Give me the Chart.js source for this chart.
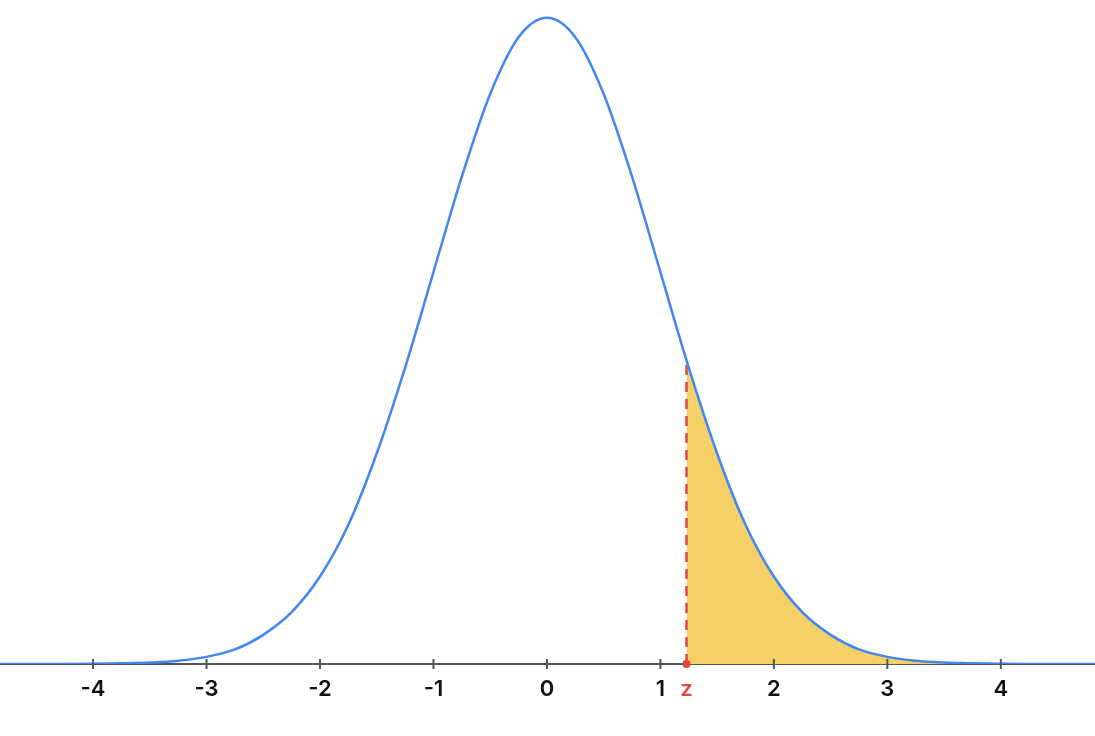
<!DOCTYPE html>
<html>
<head>
<meta charset="utf-8">
<script src="https://cdn.jsdelivr.net/npm/chart.js@4.4.1/dist/chart.umd.min.js"></script>
<style>
  html, body { margin: 0; padding: 0; background: #fff; }
  #wrap { width: 1095px; height: 736px; }
</style>
</head>
<body>
<div id="wrap"><canvas id="normalChart"></canvas></div>
<script>
// curve values (density at each z)
const zValues = [-5, -4.75, -4.5, -4.25, -4, -3.75, -3.5, -3.25, -3, -2.75, -2.5, -2.25, -2, -1.75, -1.5, -1.25, -1, -0.75, -0.5, -0.25,
                 0, 0.25, 0.5, 0.75, 1, 1.25, 1.5, 1.75, 2, 2.25, 2.5, 2.75, 3, 3.25, 3.5, 3.75, 4, 4.25, 4.5, 4.75, 5];
const density = [0, 0, 0, 0, 0.0001, 0.0004, 0.0009, 0.002, 0.0044, 0.009, 0.018, 0.032, 0.054, 0.086, 0.130, 0.183, 0.242, 0.301, 0.352, 0.387,
                 0.399, 0.387, 0.352, 0.301, 0.242, 0.183, 0.130, 0.086, 0.054, 0.032, 0.018, 0.009, 0.0044, 0.002, 0.0009, 0.0004, 0.0001, 0, 0, 0, 0];
const tickValues = [-4, -3, -2, -1, 0, 1, 2, 3, 4];

// the marked z value and the curve height there
const zMark = 1.23;
const zHeight = 0.187;

const curvePoints = zValues.map((x, i) => ({ x: x, y: density[i] }));
const tailPoints = [{ x: zMark, y: zHeight }].concat(curvePoints.filter(p => p.x > zMark));

const blue = '#4286f4';
const red = '#e0483e';
const axisGrey = '#555555';

// small tick marks that cross the axis line
const crossTicks = {
    id: 'crossTicks',
    afterDraw(chart) {
        const sx = chart.scales.x;
        const ctx = chart.ctx;
        const yAxis = chart.chartArea.bottom;
        ctx.save();
        ctx.strokeStyle = axisGrey;
        ctx.lineWidth = 2;
        tickValues.forEach(v => {
            const px = sx.getPixelForValue(v);
            ctx.beginPath();
            ctx.moveTo(px, yAxis - 5);
            ctx.lineTo(px, yAxis + 5);
            ctx.stroke();
        });
        ctx.restore();
    }
};

new Chart(document.getElementById('normalChart'), {
    type: 'line',
    data: {
        datasets: [
            {
                label: 'curve',
                data: curvePoints,
                borderColor: blue,
                borderWidth: 2.5,
                pointRadius: 0,
                fill: false,
                cubicInterpolationMode: 'monotone',
                order: 0
            },
            {
                label: 'z point',
                data: [{ x: zMark, y: 0 }],
                pointRadius: 4,
                pointBackgroundColor: red,
                pointBorderWidth: 0,
                showLine: false,
                clip: false,
                order: 1
            },
            {
                label: 'z line',
                data: [{ x: zMark, y: 0 }, { x: zMark, y: zHeight }],
                borderColor: red,
                borderWidth: 2.5,
                borderDash: [10, 7],
                pointRadius: 0,
                fill: false,
                order: 2
            },
            {
                label: 'tail',
                data: tailPoints,
                borderWidth: 0,
                backgroundColor: '#f5d066',
                pointRadius: 0,
                fill: 'origin',
                cubicInterpolationMode: 'monotone',
                order: 3
            }
        ]
    },
    options: {
        responsive: true,
        maintainAspectRatio: false,
        animation: false,
        layout: { padding: 0, autoPadding: false },
        plugins: {
            legend: { display: false },
            tooltip: { enabled: false }
        },
        scales: {
            x: {
                type: 'linear',
                min: -4.82,
                max: 4.83,
                afterBuildTicks: (scale) => {
                    scale.ticks = tickValues.concat([zMark]).map(v => ({ value: v }));
                },
                afterFit: (scale) => { scale.height = 72; },
                grid: { display: false },
                border: { display: true, color: axisGrey, width: 2 },
                ticks: {
                    autoSkip: false,
                    maxRotation: 0,
                    padding: 4,
                    font: { family: 'Inter', size: 22, weight: 600 },
                    color: (c) => c.tick && c.tick.value === zMark ? red : '#111111',
                    callback: (v) => v === zMark ? 'z' : String(v)
                }
            },
            y: {
                display: false,
                min: 0,
                max: 0.410
            }
        }
    },
    plugins: [crossTicks]
});
</script>
</body>
</html>
